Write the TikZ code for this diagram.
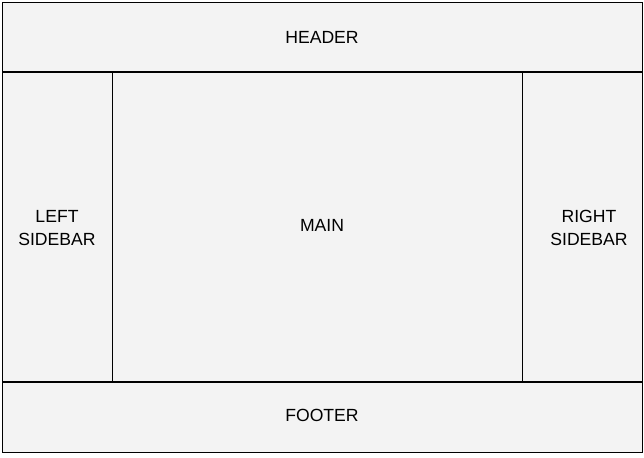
\documentclass[tikz,border=0pt]{standalone}
\usepackage{fontspec}
\setmainfont{Liberation Sans}
\definecolor{panel}{HTML}{F3F3F3}
\begin{document}
\begin{tikzpicture}[x=1pt,y=-1pt,
  lbl/.style={font=\fontsize{17.6}{22.5}\selectfont,align=center,inner sep=0pt}]
\useasboundingbox (0,0) rectangle (644,457);
\fill[white] (0,0) rectangle (644,457);
\fill[panel] (2.5,2.5) rectangle (642.5,452.5);
\draw[line width=1.5pt] (2.5,72) -- (642.5,72);
\draw[line width=1.5pt] (2.5,382) -- (642.5,382);
\draw[line width=1.5pt] (112.5,72) -- (112.5,382);
\draw[line width=1.5pt] (522.5,72) -- (522.5,382);
\draw[line width=1.5pt] (2.5,2.5) rectangle (642.5,452.5);
\node[lbl] (header) at (322,37.5) {HEADER};
\node[lbl] (main) at (322,225.5) {MAIN};
\node[lbl] (left) at (57,228) {LEFT\\SIDEBAR};
\node[lbl] (right) at (589,228) {RIGHT\\SIDEBAR};
\node[lbl] (footer) at (322,415) {FOOTER};
\end{tikzpicture}
\end{document}
